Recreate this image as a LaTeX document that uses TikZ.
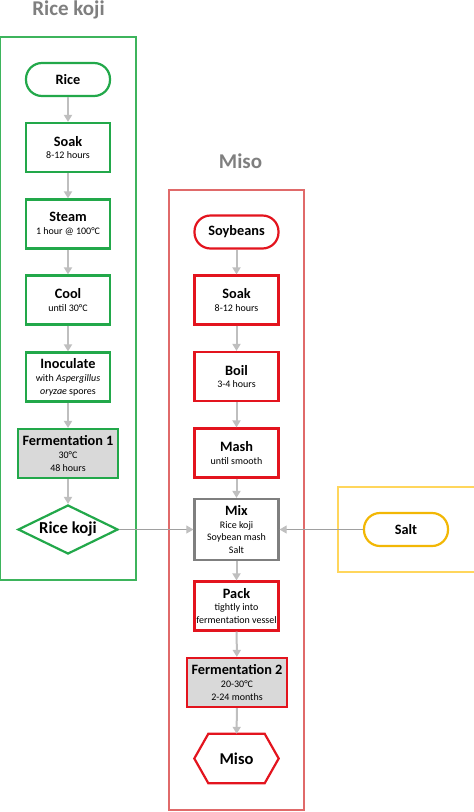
\documentclass[tikz,border=0pt]{standalone}
\usepackage{fontspec}
\setmainfont{Carlito}
\usetikzlibrary{arrows.meta,shapes.geometric,calc}
\definecolor{kgreen}{HTML}{22A84A}
\definecolor{kgreenf}{HTML}{3DB45C}
\definecolor{kred}{HTML}{E3141E}
\definecolor{kredf}{HTML}{E06A6A}
\definecolor{kyel}{HTML}{F2B705}
\definecolor{kyelf}{HTML}{FFD65C}
\definecolor{kgray}{HTML}{7F7F7F}
\definecolor{karr}{HTML}{BFBFBF}
\definecolor{kline}{HTML}{A0A0A0}
\definecolor{kfill}{HTML}{D9D9D9}
\begin{document}
\begin{tikzpicture}[x=1pt,y=-1pt,
  every node/.style={inner sep=1pt},
  stepbox/.style={draw, line width=2.2pt, fill=white, minimum width=84pt, minimum height=49pt,
    align=center, font=\fontsize{10}{12.8}\selectfont},
  fermbox/.style={stepbox, fill=kfill, minimum width=100pt},
  term/.style={draw, line width=2.2pt, fill=white, rounded corners=16pt, minimum width=84pt,
    minimum height=33pt, font=\fontsize{14.3}{16}\selectfont\bfseries},
  frame/.style={line width=1.2pt},
  header/.style={text=kgray, font=\fontsize{21}{24}\selectfont\bfseries, anchor=base},
  arr/.style={draw=karr, line width=2pt, -{Triangle[length=7pt,width=8pt]}},
  harr/.style={draw=kline, line width=0.9pt, -{Triangle[length=7pt,width=8pt,fill=karr,color=karr]}}
]
\useasboundingbox (0,0) rectangle (474,812);
% frames
\draw[frame, kgreenf] (0.6,37) rectangle (136,580);
\draw[frame, kredf] (169,190) rectangle (304,810);
\draw[frame, kyelf] (338,487) rectangle (480,572);
% headers
\node[header] (h1) at (68.5,15.5) {Rice koji};
\node[header] (h2) at (240.5,168) {Miso};
% rice koji column
\node[term, draw=kgreen] (rice) at (68,79.5) {Rice};
\node[stepbox, draw=kgreen] (soak1) at (68,147.5) {{\fontsize{14.3}{12.8}\selectfont\bfseries Soak}\\8-12 hours};
\node[stepbox, draw=kgreen] (steam) at (68,224) {{\fontsize{14.3}{12.8}\selectfont\bfseries Steam}\\1 hour @ 100°C};
\node[stepbox, draw=kgreen] (cool) at (68,300) {{\fontsize{14.3}{12.8}\selectfont\bfseries Cool}\\until 30°C};
\node[stepbox, draw=kgreen] (inoc) at (68,377) {{\fontsize{14.3}{12.8}\selectfont\bfseries Inoculate}\\with \textit{Aspergillus}\\\textit{oryzae} spores};
\node[fermbox, draw=kgreen] (ferm1) at (68,453.5) {{\fontsize{14.3}{12.8}\selectfont\bfseries Fermentation 1}\\30°C\\48 hours};
\node[diamond, draw=kgreen, line width=2.2pt, fill=white, aspect=2, inner sep=0pt,
  minimum width=100pt, minimum height=49pt, font=\fontsize{16.7}{18}\selectfont\bfseries]
  (ricekoji) at (68,529.5) {Rice koji};
% miso column
\node[term, draw=kred] (soy) at (236.5,232) {Soybeans};
\node[stepbox, draw=kred] (soak2) at (236.5,300) {{\fontsize{14.3}{12.8}\selectfont\bfseries Soak}\\8-12 hours};
\node[stepbox, draw=kred] (boil) at (236.5,376.5) {{\fontsize{14.3}{12.8}\selectfont\bfseries Boil}\\3-4 hours};
\node[stepbox, draw=kred] (mash) at (236.5,453) {{\fontsize{14.3}{12.8}\selectfont\bfseries Mash}\\until smooth};
\node[stepbox, draw=kgray, minimum height=61pt] (mix) at (236.5,529.5) {{\fontsize{14.3}{12.8}\selectfont\bfseries Mix}\\Rice koji\\Soybean mash\\Salt};
\node[stepbox, draw=kred] (pack) at (236.5,606) {{\fontsize{14.3}{12.8}\selectfont\bfseries Pack}\\tightly into\\fermentation vessel};
\node[fermbox, draw=kred] (ferm2) at (237,682.5) {{\fontsize{14.3}{12.8}\selectfont\bfseries Fermentation 2}\\20-30°C\\2-24 months};
\node[minimum width=84pt, minimum height=49pt, font=\fontsize{16.5}{18}\selectfont\bfseries]
  (miso) at (236.5,758.5) {Miso};
\draw[kred, line width=2.2pt, line join=miter]
  (miso.west) -- ($(miso.north west)+(14,0)$) -- ($(miso.north east)+(-14,0)$) -- (miso.east)
  -- ($(miso.south east)+(-14,0)$) -- ($(miso.south west)+(14,0)$) -- cycle;
% salt
\node[term, draw=kyel] (salt) at (406,529.5) {Salt};
% connectors
\draw[arr] (rice) -- (soak1);
\draw[arr] (soak1) -- (steam);
\draw[arr] (steam) -- (cool);
\draw[arr] (cool) -- (inoc);
\draw[arr] (inoc) -- (ferm1);
\draw[arr] (ferm1) -- (ricekoji);
\draw[arr] (soy) -- (soak2);
\draw[arr] (soak2) -- (boil);
\draw[arr] (boil) -- (mash);
\draw[arr] (mash) -- (mix);
\draw[arr] (mix) -- (pack);
\draw[arr] (pack) -- (ferm2);
\draw[arr] (ferm2) -- (miso);
\draw[harr] (ricekoji) -- (mix);
\draw[harr] (salt) -- (mix);
\end{tikzpicture}
\end{document}
